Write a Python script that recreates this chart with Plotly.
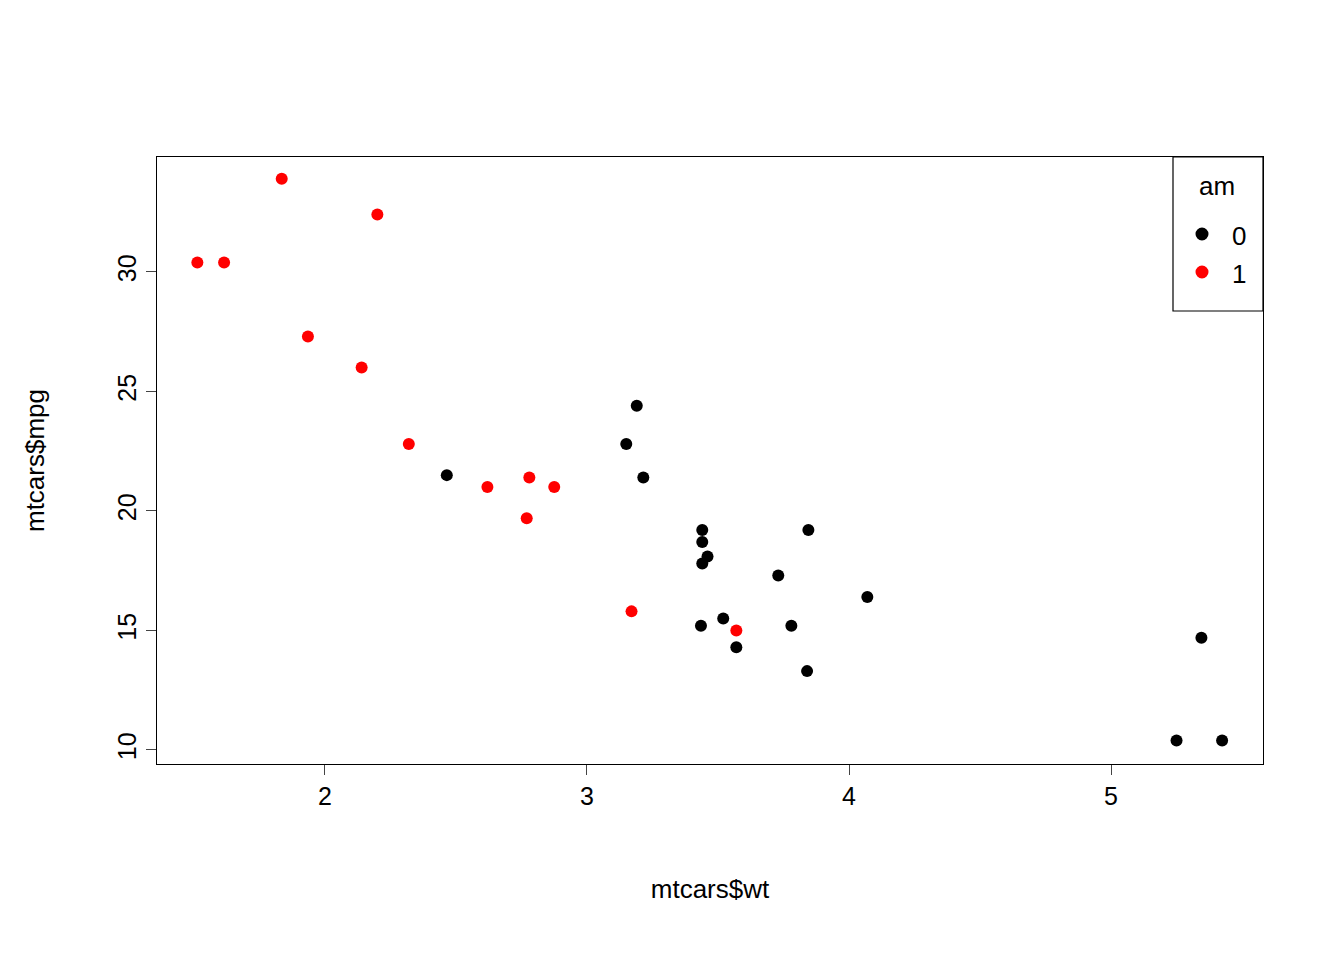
import plotly.graph_objects as go

wt = [2.620,2.875,2.320,3.215,3.440,3.460,3.570,3.190,3.150,3.440,3.440,4.070,3.730,3.780,5.250,5.424,5.345,2.200,1.615,1.835,2.465,3.520,3.435,3.840,3.845,1.935,2.140,1.513,3.170,2.770,3.570,2.780]
mpg = [21.0,21.0,22.8,21.4,18.7,18.1,14.3,24.4,22.8,19.2,17.8,16.4,17.3,15.2,10.4,10.4,14.7,32.4,30.4,33.9,21.5,15.5,15.2,13.3,19.2,27.3,26.0,30.4,15.8,19.7,15.0,21.4]
am = [1,1,1,0,0,0,0,0,0,0,0,0,0,0,0,0,0,1,1,1,0,0,0,0,0,1,1,1,1,1,1,1]
colors = {0: "black", 1: "red"}

fig = go.Figure()
fig.add_trace(go.Scatter(x=wt, y=mpg, mode="markers",
    marker=dict(color=[colors[a] for a in am], size=12), showlegend=False))

W, H = 1106, 607
def px(x): return (x-157)/W
def py(y): return (764-y)/H

shapes = [dict(type="rect", xref="paper", yref="paper", x0=px(1173), x1=1, y0=py(311), y1=1,
               line=dict(color="black", width=1.2))]
ann = [dict(text="am", x=px(1217), y=py(186), xref="paper", yref="paper", showarrow=False,
            xanchor="center", yanchor="middle", font=dict(size=26, color="black"))]
for lab, yy in [("0", 234), ("1", 272)]:
    r = 6.5
    shapes.append(dict(type="circle", xref="paper", yref="paper", x0=px(1202-r), x1=px(1202+r),
                       y0=py(yy+r), y1=py(yy-r), fillcolor=colors[int(lab)], line=dict(width=0)))
    ann.append(dict(text=lab, x=px(1239), y=py(yy+2), xref="paper", yref="paper", showarrow=False,
                    xanchor="center", yanchor="middle", font=dict(size=26, color="black")))

fig.update_layout(
    width=1344, height=960, plot_bgcolor="white", paper_bgcolor="white",
    margin=dict(l=149, r=89, t=149, b=204),
    font=dict(family="Liberation Sans, Arial", size=25, color="black"),
    shapes=shapes, annotations=ann,
    xaxis=dict(range=[1.359, 5.580], tickvals=[2,3,4,5], ticks="outside", ticklen=10,
               showgrid=False, zeroline=False, showline=True, mirror=True, linecolor="black",
               tickfont=dict(size=25), title=dict(text="mtcars$wt", standoff=70, font=dict(size=26))),
    yaxis=dict(range=[9.414, 34.81], tickvals=[10,15,20,25,30], ticks="outside", ticklen=10,
               tickangle=-90, showgrid=False, zeroline=False, showline=True, mirror=True,
               linecolor="black", tickfont=dict(size=25),
               title=dict(text="mtcars$mpg", standoff=60, font=dict(size=26))),
)
fig.write_html("out.html")
